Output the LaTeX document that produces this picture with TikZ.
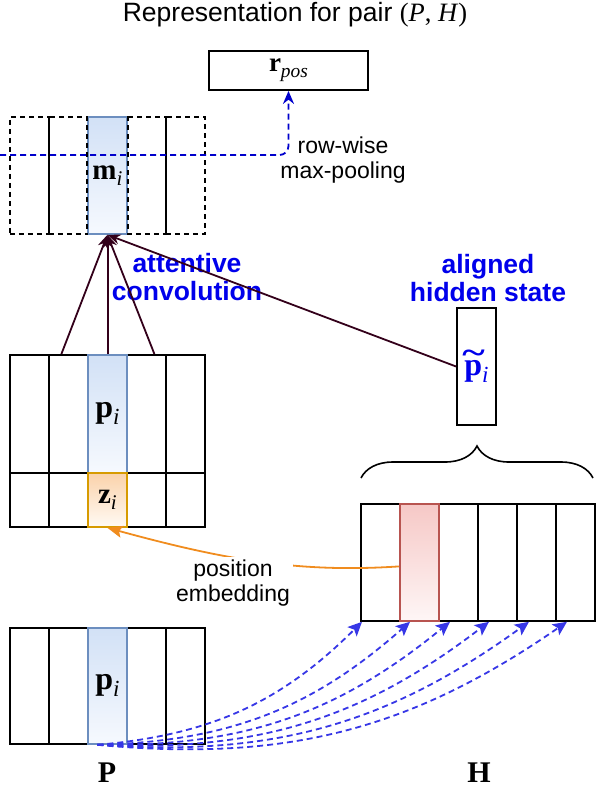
\documentclass[tikz,border=0pt]{standalone}
\usepackage[no-math]{fontspec}
\setmainfont{Liberation Sans}
\newfontfamily\tms{Liberation Serif}
\usetikzlibrary{arrows.meta,decorations.pathreplacing,calc}
\newcommand\vsub[2]{{\tms\bfseries #1}\raisebox{-0.22em}{\tms\itshape\scalebox{0.72}{#2}}}
\newcommand\ptil{{\tms\bfseries\makebox[0pt][l]{\raisebox{0.36em}{\hspace{-0.06em}\scalebox{1.35}[1.0]{\textasciitilde}}}p}\raisebox{-0.22em}{\tms\itshape\scalebox{0.72}{i}}}
\definecolor{pblueT}{RGB}{210,225,246}
\definecolor{pblueB}{RGB}{246,249,254}
\definecolor{pblueD}{RGB}{108,142,191}
\definecolor{zorT}{RGB}{250,210,170}
\definecolor{zorB}{RGB}{255,250,244}
\definecolor{zorD}{RGB}{215,155,0}
\definecolor{hpkT}{RGB}{246,200,198}
\definecolor{hpkB}{RGB}{254,246,246}
\definecolor{hpkD}{RGB}{184,84,80}
\definecolor{maroonln}{RGB}{51,0,26}
\definecolor{txtblue}{RGB}{0,0,235}
\definecolor{dashblue}{RGB}{0,0,204}
\definecolor{arrblue}{RGB}{55,55,230}
\definecolor{orangeln}{RGB}{240,140,30}
\begin{document}
\begin{tikzpicture}[x=1pt,y=-1pt,
  cell/.style={draw=black,line width=1.8pt,inner sep=0pt,minimum width=39pt,anchor=north west},
  dcell/.style={cell,dash pattern=on 5pt off 4pt},
  hlblue/.style={draw=pblueD,line width=1.8pt,top color=pblueT,bottom color=pblueB},
  hlorange/.style={draw=zorD,line width=1.8pt,top color=zorT,bottom color=zorB},
  hlpink/.style={draw=hpkD,line width=1.8pt,top color=hpkT,bottom color=hpkB},
  conv/.style={draw=maroonln,line width=1.8pt,-{Stealth[length=13pt,width=10pt]}},
  pooldash/.style={draw=dashblue,line width=1.8pt,dash pattern=on 6pt off 4pt,-{Stealth[length=13pt,width=11pt]}},
  simarrow/.style={draw=arrblue,line width=1.8pt,dash pattern=on 6pt off 4pt,-{Stealth[length=14pt,width=13pt,inset=3pt]}},
  posarrow/.style={draw=orangeln,line width=1.8pt,-{Stealth[length=15pt,width=12pt,inset=3pt]}},
  plain/.style={font=\fontsize{23}{27}\selectfont,align=center,inner sep=1pt},
  bluebold/.style={font=\fontsize{26.5}{31}\selectfont\bfseries,text=txtblue,align=center,inner sep=1pt},
  mathlab/.style={font=\fontsize{32}{34}\selectfont},
  brace/.style={draw=black,line width=1.6pt,decorate,decoration={brace,amplitude=32pt}}
]
\useasboundingbox (0,0) rectangle (599,788);

% title
\node[font=\fontsize{26.5}{30}\selectfont,anchor=base] (title) at (295,21) {Representation for pair {\tms(\textit{P}, \textit{H})}};

% r_pos
\node[draw=black,line width=1.8pt,minimum width=159pt,minimum height=39pt,inner sep=0pt,font=\fontsize{27}{28}\selectfont] (r) at (288.5,70.5) {\vsub{r}{pos}};

% top dashed grid (m)
\foreach \i in {1,...,5}
  \node[dcell,minimum height=117pt] (m\i) at ({9+39*(\i-1)},116) {};
\node[cell,hlblue,minimum height=117pt,font=\fontsize{29}{30}\selectfont] (m3h) at (m3.north west) {\vsub{m}{i}};
\draw[black,line width=1.8pt,dash pattern=on 5pt off 4pt] (m3.north west) -- (m3.south west) (m3.north east) -- (m3.south east);

% middle grid (p and z)
\foreach \i in {1,...,5}{
  \node[cell,minimum height=118pt] (p\i) at ({9+39*(\i-1)},354) {};
  \node[cell,minimum height=54pt] (z\i) at ({9+39*(\i-1)},472) {};
}
\node[cell,hlblue,minimum height=118pt,mathlab] (p3h) at (p3.north west) {\vsub{p}{i}};
\node[cell,hlorange,minimum height=54pt,font=\fontsize{29}{30}\selectfont] (z3h) at (z3.north west) {\vsub{z}{i}};

% bottom grid P
\foreach \i in {1,...,5}
  \node[cell,minimum height=116pt] (q\i) at ({9+39*(\i-1)},627) {};
\node[cell,hlblue,minimum height=116pt,mathlab] (q3h) at (q3.north west) {\vsub{p}{i}};

% H grid
\foreach \i in {1,...,6}
  \node[cell,minimum height=117pt] (h\i) at ({360+39*(\i-1)},503) {};
\node[cell,hlpink,minimum height=117pt] (h2h) at (h2.north west) {};

% aligned hidden state box
\node[draw=black,line width=1.8pt,minimum width=39pt,minimum height=117pt,inner sep=0pt,mathlab,text=txtblue] (pt) at (476.5,366.5) {\ptil};

% labels
\node[bluebold] (attconv) at (187,277) {attentive\\[-3pt]convolution};
\node[bluebold] (aligned) at (488,278) {aligned\\[-3pt]hidden state};
\node[plain] (pool) at (343,160) {row-wise\\[-2pt]max-pooling};
\node[font=\fontsize{30}{32}\selectfont\tms\bfseries] (Plab) at (107,773) {P};
\node[font=\fontsize{30}{32}\selectfont\tms\bfseries] (Hlab) at (479,773) {H};

% row-wise max-pooling
\coordinate (poolstart) at (0,155);
\draw[pooldash,rounded corners=9pt] (poolstart) -| (r.south);

% attentive convolution arrows
\draw[conv] ([xshift=-7pt]p2.north) -- (m3.south);
\draw[conv] ([xshift=0.5pt]p3.north) -- ([xshift=0.5pt]m3.south);
\draw[conv] ([xshift=8pt]p4.north) -- (m3.south);
\draw[conv] (pt.west) -- (m3.south);

% brace
\coordinate (bl) at (361,478);
\coordinate (br) at (593,478);
\draw[brace] (bl) -- (br);

% position embedding
\draw[posarrow] ([yshift=-4pt]h2.west) .. controls (300,573) and (225,560) .. (z3.south);
\node[plain,fill=white,inner sep=3pt] (posemb) at (233,583) {position\\[-2pt]embedding};

% similarity arrows
\coordinate (src) at ([xshift=-10pt]q3.south);
\foreach \k/\dx in {1/2,2/11,3/12,4/12,5/13,6/12}
  \draw[simarrow] (src) to[bend right=20] ([xshift=\dx pt]h\k.south west);
\end{tikzpicture}
\end{document}
